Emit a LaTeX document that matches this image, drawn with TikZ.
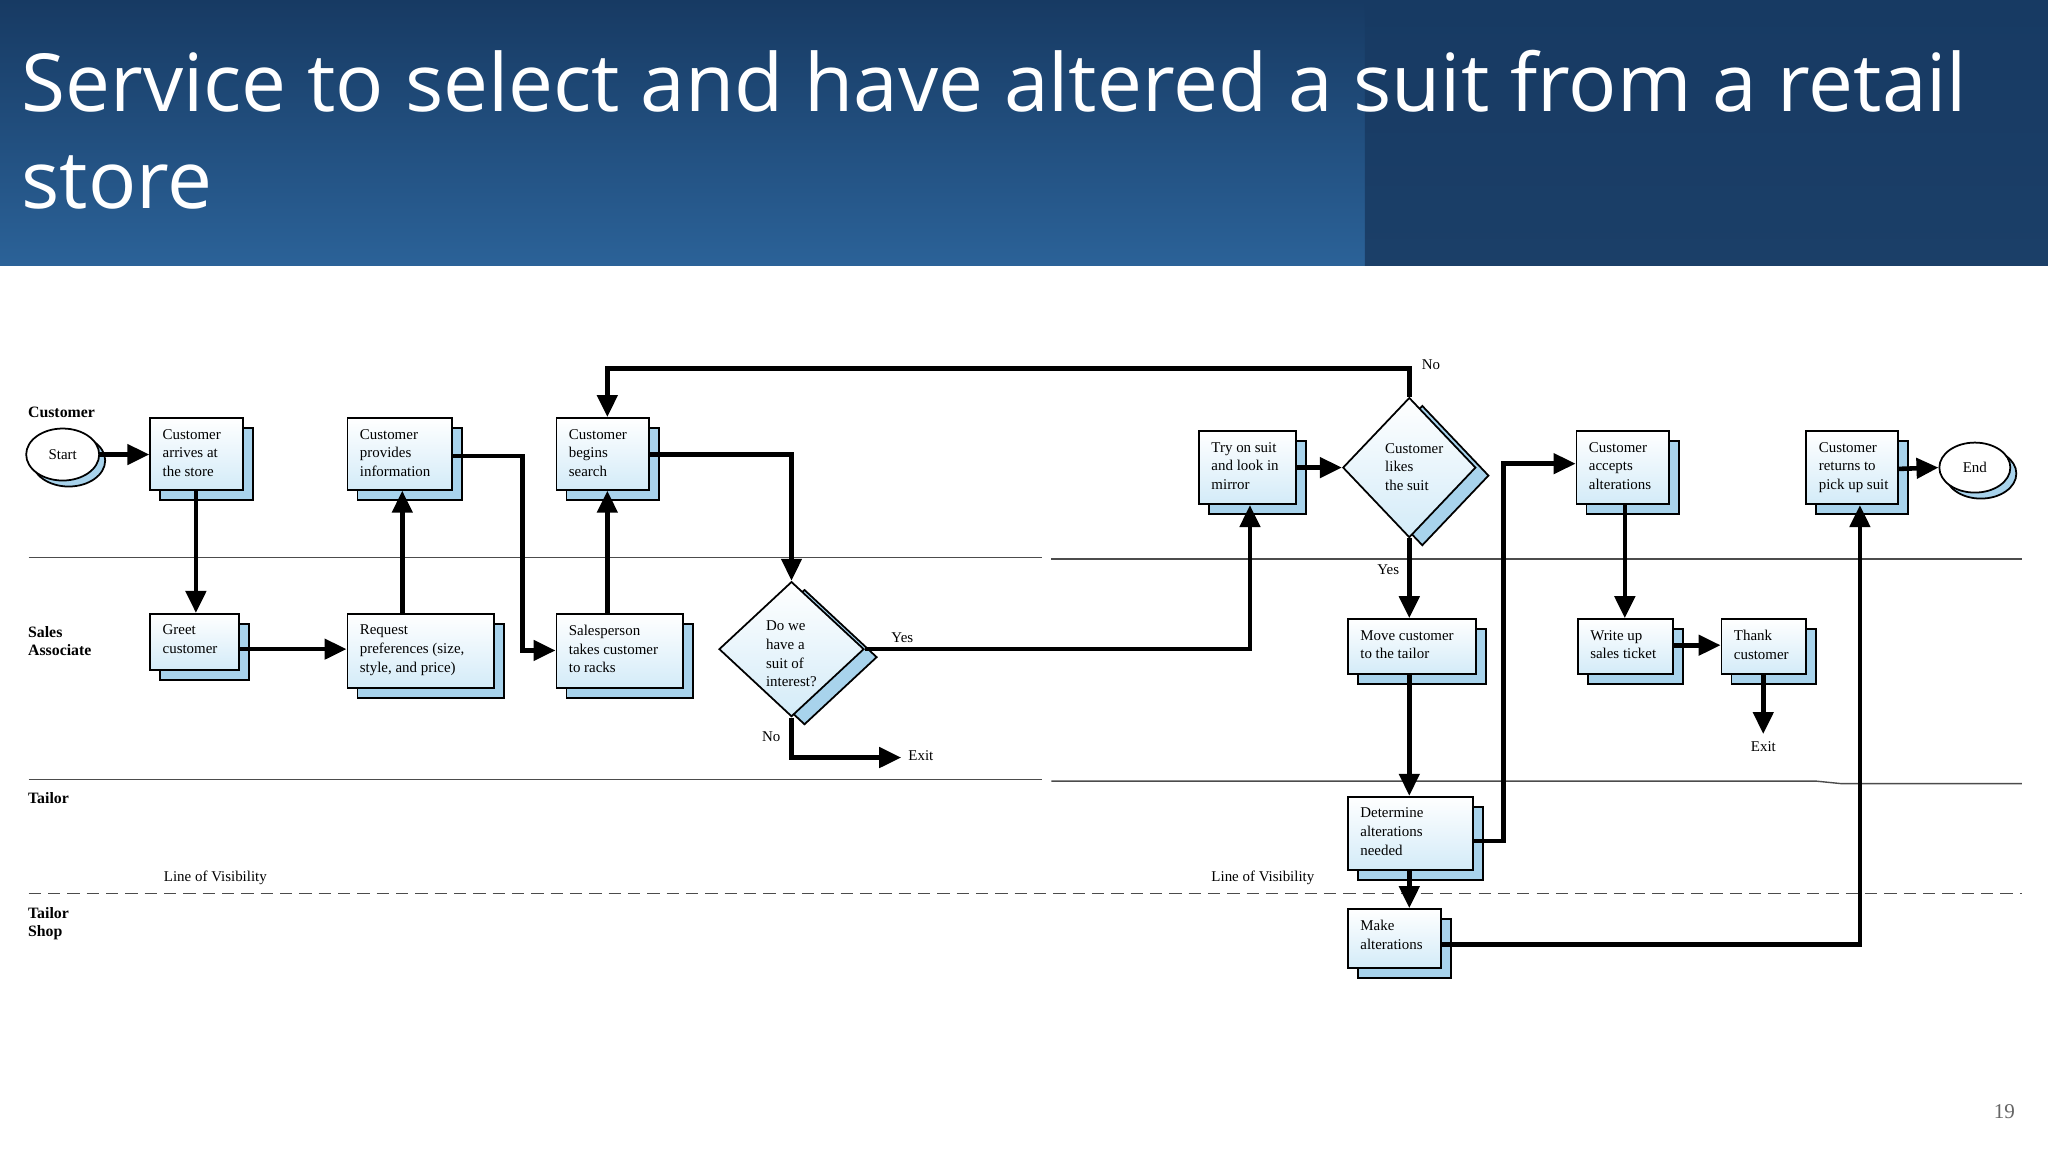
\documentclass[tikz,border=0pt]{standalone}
\usepackage{fontspec}
\setmainfont{Liberation Serif}
\newfontfamily\titlefont{Open Sans}
\usetikzlibrary{shapes.geometric,shadows,fit,arrows.meta}
\definecolor{bandA}{HTML}{173A63}
\definecolor{bandB}{HTML}{2B6298}
\definecolor{bandR}{HTML}{1B3F68}
\definecolor{boxfill}{HTML}{D3EBF8}
\definecolor{boxside}{HTML}{A8D3EC}
\tikzset{
 shd/.style={copy shadow={shadow xshift=0.1cm,shadow yshift=-0.1cm,fill=boxside,draw=black,line width=0.5pt}},
 bx/.style={draw=black,line width=0.5pt,inner sep=0pt,top color=white,bottom color=boxfill,shd},
 dm/.style={diamond,draw=black,line width=0.5pt,inner sep=0pt,top color=white,bottom color=boxfill,
   copy shadow={shadow xshift=0.13cm,shadow yshift=-0.08cm,fill=boxside,draw=black,line width=0.5pt}},
 el/.style={ellipse,draw=black,line width=0.5pt,inner sep=0pt,fill=white,
   copy shadow={shadow xshift=0.06cm,shadow yshift=-0.06cm,fill=boxside,draw=black,line width=0.5pt}},
 txt/.style={font=\fontsize{4.25}{5.3}\selectfont,align=left,inner sep=0pt,anchor=north west},
 lane/.style={font=\bfseries\fontsize{4.5}{5.3}\selectfont,align=left,inner sep=0pt,anchor=north west},
 ar/.style={line width=1.3pt,-{Triangle[length=2.2mm,width=2mm]}},
 sep/.style={line width=0.4pt,draw=black!70},
 ttl/.style={text=white,font=\titlefont\fontsize{22.8}{28}\selectfont,anchor=west,inner sep=0pt},
}
\newcommand{\bx}[6]{\node[bx,fit={(#2,#3)(#4,#5)}] (#1) {};
 \node[txt] (#1-t) at (#2+9,#3+8) {#6};}
\begin{document}
\begin{tikzpicture}[x=0.01306cm,y=-0.01306cm]
\useasboundingbox (0,0) rectangle (1568,882);
\fill[white] (0,0) rectangle (1568,882);
\shade[top color=bandA,bottom color=bandB] (0,0) rectangle (1045,203);
\shade[top color=bandA,bottom color=bandR] (1045,0) rectangle (1568,203);
\node[ttl] (t1) at (16,62) {Service to select and have altered a suit from a retail};
\node[ttl] (t2) at (16,140) {store};
% lanes
\draw[sep] (22,427) -- (798,427); \draw[sep] (805,428) -- (1548,428);
\draw[sep] (22,597) -- (798,597); \draw[sep] (805,598) -- (1390,598) -- (1410,600) -- (1548,600);
\draw[sep,dash pattern=on 3.5pt off 2pt] (22,684) -- (1548,684);
\node[lane] (lc) at (21,311) {Customer};
\node[lane] (ls) at (21,479) {Sales\\Associate};
\node[lane] (lt) at (21,606) {Tailor};
\node[lane] (lts) at (21,694) {Tailor\\Shop};
\node[txt] (lv1) at (125,666) {Line of Visibility};
\node[txt] (lv2) at (927,666) {Line of Visibility};
% nodes
\node[el,minimum width=0.73cm,minimum height=0.52cm] (start) at (48,348) {};
\node[txt,anchor=center] (start-t) at (48,348) {Start};
\bx{n1}{115}{320}{186}{375}{Customer\\arrives at\\the store}
\bx{n2}{266}{320}{346}{375}{Customer\\provides\\information}
\bx{n3}{426}{320}{497}{375}{Customer\\begins\\search}
\bx{g}{115}{470}{183}{513}{Greet\\customer}
\bx{r}{266}{470}{378}{527}{Request\\preferences (size,\\style, and price)}
\bx{s}{426}{470}{523}{527}{Salesperson\\takes customer\\to racks}
\node[dm,minimum width=1.45cm,minimum height=1.35cm] (d1) at (606,497) {};
\node[txt] (d1-t) at (586,475) {Do we\\have a\\suit of\\interest?};
\bx{tr}{918}{330}{992}{386}{Try on suit\\and look in\\mirror}
\node[dm,minimum width=1.33cm,minimum height=1.40cm] (d2) at (1079,358) {};
\node[txt] (d2-t) at (1060,339) {Customer\\likes\\the suit};
\bx{ca}{1207}{330}{1278}{386}{Customer\\accepts\\alterations}
\bx{cr}{1383}{330}{1453}{386}{Customer\\returns to\\pick up suit}
\node[el,minimum width=0.71cm,minimum height=0.50cm] (end) at (1512,358) {};
\node[txt,anchor=center] (end-t) at (1512,358) {End};
\bx{mv}{1032}{474}{1130}{516}{Move customer\\to the tailor}
\bx{wu}{1208}{474}{1281}{516}{Write up\\sales ticket}
\bx{th}{1318}{474}{1383}{516}{Thank\\customer}
\bx{de}{1032}{610}{1128}{666}{Determine\\alterations\\needed}
\bx{ma}{1032}{696}{1103}{741}{Make\\alterations}
\coordinate (ex1) at (690,580);
\coordinate (ex2) at (1350,562);
\node[txt] (ex1-t) at (695,574) {Exit};
\node[txt] (ex2-t) at (1340,567) {Exit};
\node[txt] (yes1) at (682,484) {Yes};
\node[txt] (no1) at (583,560) {No};
\node[txt] (no2) at (1088,275) {No};
\node[txt] (yes2) at (1054,432) {Yes};
\node[txt,text=black!60,font=\fontsize{6}{7}\selectfont] (pg) at (1526,845) {19};
% edges
\draw[ar] (start.east) -- (n1.west|-start.east);
\draw[ar] (n1.south-|150,0) -- (g.north-|150,0);
\draw[ar] (g.east|-0,497) -- (r.west|-0,497);
\draw[ar] (r.north-|308,0) -- (n2.south-|308,0);
\draw[ar] (n2.east|-0,349) -- (400,349) -- (400,498) -- (s.west|-0,498);
\draw[ar] (s.north-|465,0) -- (n3.south-|465,0);
\draw[ar] (n3.east|-0,348) -- (606,348) -- (d1.north);
\draw[ar] (d1.east) -- (d1.east-|957,0) -- (tr.south-|957,0);
\draw[ar] (d1.south) -- (606,580) -- (ex1);
\draw[ar] (d2.north) -- (1079,282) -- (465,282) -- (n3.north-|465,0);
\draw[ar] (tr.east|-0,358) -- (d2.west);
\draw[ar] (d2.south) -- (mv.north-|1079,0);
\draw[ar] (mv.south-|1079,0) -- (de.north-|1079,0);
\draw[ar] (de.south-|1079,0) -- (ma.north-|1079,0);
\draw[ar] (de.east|-0,644) -- (1151,644) -- (1151,355) -- (ca.west|-0,355);
\draw[ar] (ma.east|-0,723) -- (1424,723) -- (cr.south-|1424,0);
\draw[ar] (ca.south-|1244,0) -- (wu.north-|1244,0);
\draw[ar] (wu.east|-0,494) -- (th.west|-0,494);
\draw[ar] (th.south-|1350,0) -- (ex2);
\draw[ar] (cr.east|-0,359) -- (end.west);
\end{tikzpicture}
\end{document}
